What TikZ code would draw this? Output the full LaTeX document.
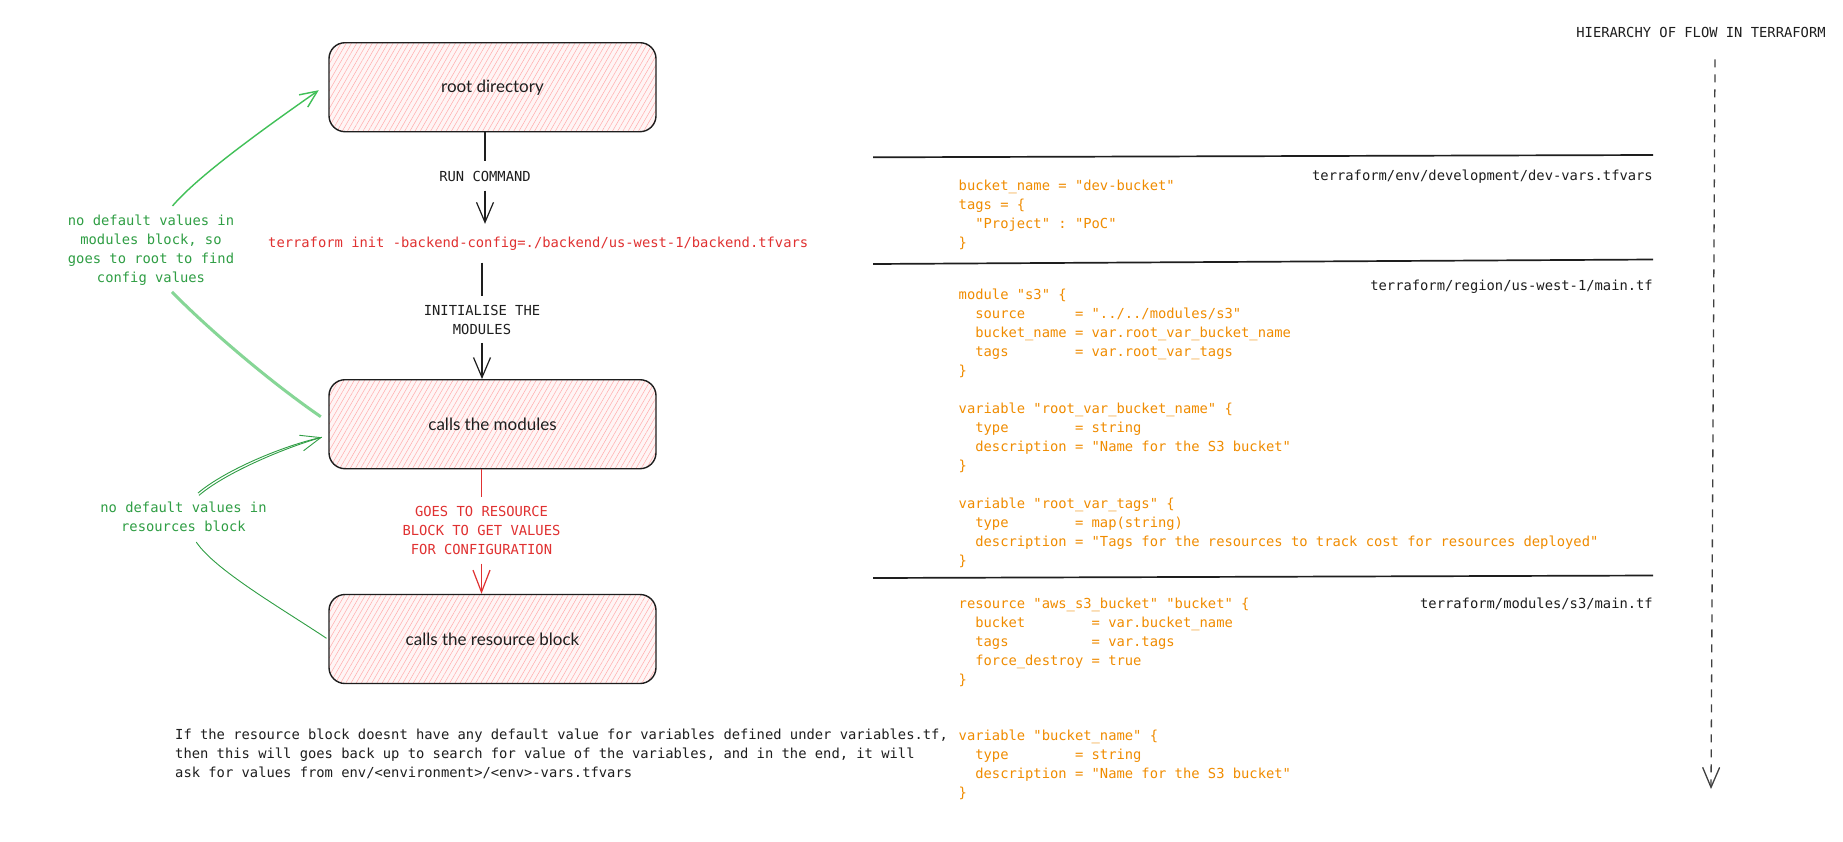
\documentclass[tikz,border=0pt]{standalone}
\usepackage{fontspec}
\setmonofont{DejaVu Sans Mono}
\newfontfamily\handfont{Lato}
\usetikzlibrary{arrows.meta,patterns.meta,calc}
\definecolor{tfred}{HTML}{E03131}
\definecolor{tforange}{HTML}{F08C00}
\definecolor{tfgreen}{HTML}{2F9E44}
\definecolor{tfgreenmid}{HTML}{40C057}
\definecolor{tfgreenlight}{HTML}{86D696}
\definecolor{hatchcol}{HTML}{FFABAB}
\definecolor{boxfill}{HTML}{FFF5F5}
\definecolor{ink}{HTML}{1E1E1E}
\tikzset{
  mono/.style={font=\fontsize{13.8pt}{19pt}\selectfont\ttfamily\frenchspacing},
  procbox/.style={draw=ink, line width=1.4pt, rounded corners=16pt,
    minimum width=327pt, minimum height=89pt,
    preaction={fill=boxfill},
    pattern={Lines[angle=60,distance=4.5pt,line width=0.5pt]}, pattern color=hatchcol,
    font=\fontsize{17pt}{20pt}\selectfont\handfont, text=ink},
  codeblk/.style={mono, text=tforange, align=left, anchor=base west, inner sep=0pt},
  fname/.style={mono, text=ink, anchor=base east, inner sep=0pt},
  lbl/.style={mono, text=ink, align=center, anchor=base, inner xsep=2pt},
  gtext/.style={mono, text=tfgreen, align=center, anchor=base, inner sep=0pt},
  conn/.style={draw=ink, line width=1.2pt},
  connarrow/.style={conn, -{Straight Barb[length=20pt,width=17pt]}},
  redconn/.style={draw=tfred, line width=1.2pt},
  redarrow/.style={redconn, -{Straight Barb[length=22pt,width=17pt]}},
  gmid/.style={draw=tfgreenmid, line width=1.4pt},
  glight/.style={draw=tfgreenlight, line width=3pt},
  gdark/.style={draw=tfgreen, line width=0.9pt},
  sepline/.style={draw=ink, line width=1.7pt},
  flowarrow/.style={draw=ink!85, line width=1.3pt, dash pattern=on 8pt off 7pt,
    -{Straight Barb[length=20pt,width=17pt]}}
}
\begin{document}
\begin{tikzpicture}[x=1pt,y=-1pt]
\fill[white] (0,0) rectangle (1843,841);
\useasboundingbox (0,0) rectangle (1843,841);

% process boxes
\node[procbox] (root) at (492.5,87.2) {root directory};
\node[procbox] (mods) at (492.5,424.2) {calls the modules};
\node[procbox] (res) at (492.5,639) {calls the resource block};

% connector labels (anchor=base is the baseline of the last line)
\node[lbl, inner ysep=9.3pt] (runlbl) at (485,181) {RUN COMMAND};
\node[mono, text=tfred, anchor=base west, inner xsep=0pt, inner ysep=12.5pt] (tfcmd) at (268,247) {terraform init -backend-config=./backend/us-west-1/backend.tfvars};
\node[lbl, inner ysep=8.5pt] (initlbl) at (482,334) {INITIALISE THE\\MODULES};
\node[lbl, text=tfred, inner ysep=9pt] (redlbl) at (481.5,554.3) {GOES TO RESOURCE\\BLOCK TO GET VALUES\\FOR CONFIGURATION};

% main flow connectors
\draw[conn] (root.south -| runlbl) -- (runlbl.north);
\draw[connarrow] (runlbl.south) -- (runlbl.south |- tfcmd.north);
\draw[conn] (tfcmd.south -| initlbl) -- (initlbl.north);
\draw[connarrow] (initlbl.south) -- (initlbl.south |- mods.north);
\draw[redconn] (mods.south -| redlbl) -- (redlbl.north);
\draw[redarrow] (redlbl.south) -- (redlbl.south |- res.north);

% green notes
\node[gtext] (modtxt) at (151,282.7) {no default values in\\modules block, so\\goes to root to find\\config values};
\node[gtext] (restxt) at (183.5,531.3) {no default values in\\resources block};

\draw[gmid, -{Straight Barb[length=17pt,width=15pt]}] ($(modtxt.north)+(21.5,-9)$) .. controls (198,176) and (262,130) .. ($(root.west)+(-10,3)$);
\draw[glight] ($(modtxt.south)+(21,6)$) .. controls (199,320) and (263,377) .. ($(mods.west)+(-7.5,-7.5)$);
\draw[gdark] ($(restxt.north)+(14.5,-8.5)$) .. controls (225,470) and (285,445) .. ($(mods.west)+(-6.4,13.1)$);
\draw[gdark, -{Straight Barb[length=20pt,width=16pt]}] ($(restxt.north)+(15.5,-6.2)$) .. controls (226,472.3) and (286,447.3) .. ($(mods.west)+(-6.4,13.1)$);
\draw[gdark] ($(restxt.south)+(12.8,10.4)$) .. controls (215,570) and (281,608) .. ($(res.west)+(-1.8,-0.7)$);

% bottom note
\node[mono, text=ink, align=left, anchor=base west, inner sep=0pt] (note) at (175,777.3) {If the resource block doesnt have any default value for variables defined under variables.tf,\\then this will goes back up to search for value of the variables, and in the end, it will\\ask for values from env/<environment>/<env>-vars.tfvars};

% separators
\draw[sepline] (873,157.3) -- (1653,155);
\draw[sepline] (873,264) -- (1653,259.5);
\draw[sepline] (873,578) -- (1653,575.5);

% file names
\node[fname] (f1) at (1653,180) {terraform/env/development/dev-vars.tfvars};
\node[fname] (f2) at (1653,290) {terraform/region/us-west-1/main.tf};
\node[fname] (f3) at (1653,608.3) {terraform/modules/s3/main.tf};

% code
\node[codeblk] (c1) at (958.5,247) {bucket\_name = "dev-bucket"\\tags = \{\\~~"Project" : "PoC"\\\}};
\node[codeblk] (c2) at (958.5,565.3) {module "s3" \{\\~~source~~~~~~= "../../modules/s3"\\~~bucket\_name = var.root\_var\_bucket\_name\\~~tags~~~~~~~~= var.root\_var\_tags\\\}\\[19pt]variable "root\_var\_bucket\_name" \{\\~~type~~~~~~~~= string\\~~description = "Name for the S3 bucket"\\\}\\[19pt]variable "root\_var\_tags" \{\\~~type~~~~~~~~= map(string)\\~~description = "Tags for the resources to track cost for resources deployed"\\\}};
\node[codeblk] (c3) at (958.5,684.3) {resource "aws\_s3\_bucket" "bucket" \{\\~~bucket~~~~~~~~= var.bucket\_name\\~~tags~~~~~~~~~~= var.tags\\~~force\_destroy = true\\\}};
\node[codeblk] (c4) at (958.5,797.7) {variable "bucket\_name" \{\\~~type~~~~~~~~= string\\~~description = "Name for the S3 bucket"\\\}};

% hierarchy
\node[mono, text=ink, inner sep=0pt] (title) at (1701,32) {HIERARCHY OF FLOW IN TERRAFORM};
\coordinate (flowend) at (1711,789);
\draw[flowarrow] ($(title.south)+(14,22)$) -- (flowend);
\end{tikzpicture}
\end{document}
